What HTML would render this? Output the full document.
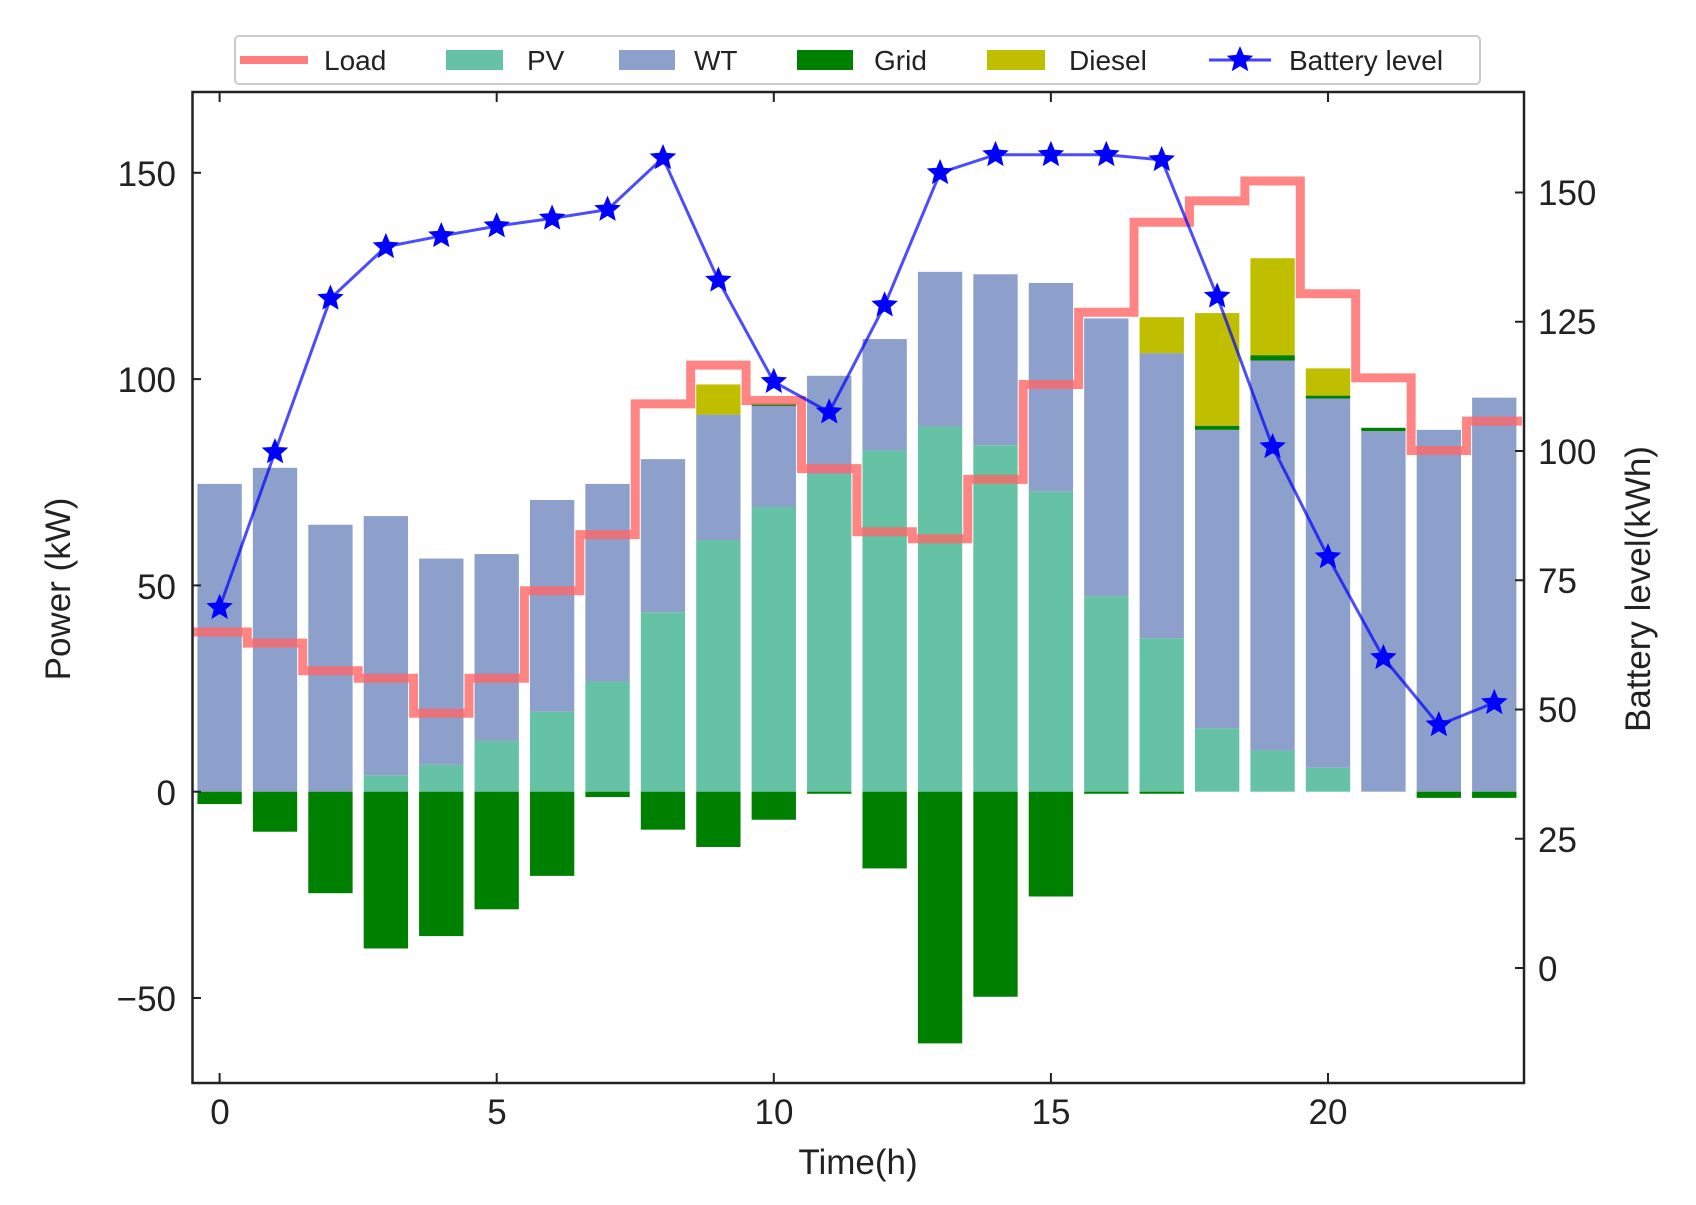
<!DOCTYPE html>
<html><head><meta charset="utf-8"><style>
html,body{margin:0;padding:0;background:#fff;}
svg text{font-family:"Liberation Sans","DejaVu Sans",sans-serif;fill:#222;}
</style></head><body>
<svg id="s" width="1696" height="1200" viewBox="0 0 1696 1200" xmlns="http://www.w3.org/2000/svg">
<rect width="1696" height="1200" fill="#fff"/>
<g id="plot"></g>
<rect x="192.5" y="92" width="1331.5" height="991" fill="none" stroke="#222" stroke-width="2.5"/>
<g id="ticks" stroke="#222" stroke-width="2"></g>
<g font-size="35">
<text x="176" y="186" text-anchor="end">150</text>
<text x="176" y="392" text-anchor="end">100</text>
<text x="176" y="599" text-anchor="end">50</text>
<text x="176" y="805" text-anchor="end">0</text>
<text x="176" y="1011" text-anchor="end">−50</text>
<text x="1538" y="205">150</text>
<text x="1538" y="334">125</text>
<text x="1538" y="464">100</text>
<text x="1538" y="593">75</text>
<text x="1538" y="722">50</text>
<text x="1538" y="852">25</text>
<text x="1538" y="981">0</text>
<text x="220" y="1124" text-anchor="middle">0</text>
<text x="497" y="1124" text-anchor="middle">5</text>
<text x="774" y="1124" text-anchor="middle">10</text>
<text x="1051" y="1124" text-anchor="middle">15</text>
<text x="1328" y="1124" text-anchor="middle">20</text>
<text x="858" y="1174" text-anchor="middle" font-size="35">Time(h)</text>
<text transform="translate(70,589) rotate(-90)" text-anchor="middle" font-size="35">Power (kW)</text>
<text transform="translate(1650,589) rotate(-90)" text-anchor="middle" font-size="35">Battery level(kWh)</text>
</g>
<g>
<rect x="235" y="36" width="1245" height="48" rx="4" fill="#fff" stroke="#ccc" stroke-width="2"/>
<line x1="240" y1="60" x2="308" y2="60" stroke="#ff6666" stroke-opacity="0.85" stroke-width="8"/>
<rect x="446" y="50" width="57" height="20" fill="#66c2a5"/>
<rect x="619" y="50" width="56" height="20" fill="#8da0cb"/>
<rect x="797" y="50" width="56" height="20" fill="#008000"/>
<rect x="987" y="50" width="58" height="20" fill="#bfbf00"/>
<line x1="1209" y1="60" x2="1271" y2="60" stroke="#0000ff" stroke-opacity="0.75" stroke-width="3"/>
<g font-size="28">
<text x="324" y="70">Load</text>
<text x="527" y="70">PV</text>
<text x="694" y="70">WT</text>
<text x="874" y="70">Grid</text>
<text x="1069" y="70">Diesel</text>
<text x="1289" y="70">Battery level</text>
</g>
<g id="legstar"></g>
</g>
</svg>
<script>
const NS="http://www.w3.org/2000/svg";
const X=h=>219.6+h*55.42, Y=v=>791.7-v*4.126, B=v=>968-v*5.17;
const plot=document.getElementById('plot');
function el(t,a,p){const e=document.createElementNS(NS,t);for(const k in a)e.setAttribute(k,a[k]);(p||plot).appendChild(e);return e;}
const pv=[0,0,0,4,6.5,12.3,19.4,26.7,43.5,61,69,77,82.7,88.5,84,72.8,47.4,37.2,15.4,10,5.8,0,0,0];
const tot=[74.6,78.5,64.7,66.8,56.5,57.6,70.7,74.6,80.6,91.4,93.5,100.8,109.7,126,125.4,123.3,114.7,106.3,87.7,104.5,95.3,87.4,87.7,95.5];
const gpos=[0,0,0,0,0,0,0,0,0,0,0.6,0,0,0,0,0,0,0,1,1.3,0.7,0.8,0,0];
const gneg=[-3,-9.7,-24.6,-38,-35,-28.5,-20.4,-1.3,-9.2,-13.4,-6.8,-0.5,-18.6,-61,-49.7,-25.4,-0.5,-0.5,0,0,0,0,-1.5,-1.5];
const dsl=[0,0,0,0,0,0,0,0,0,7.3,0,0,0,0,0,0,0,8.7,27.3,23.5,6.6,0,0,0];
const load=[38.7,36,29.3,27.5,19,27.5,48.7,62.3,94,103.4,94.8,78.3,63,61.3,75.7,98.7,116.2,138,143.2,148,120.7,100.3,82.7,89.8];
const bat=[69.7,99.8,129.5,139.5,141.6,143.5,145,146.7,156.7,133,113.4,107.5,128.2,153.8,157.3,157.3,157.3,156.3,129.9,100.8,79.5,60,47,51.3];
const w=0.8*55.42;
for(let h=0;h<24;h++){
 const x=X(h)-w/2;
 if(pv[h]>0)el('rect',{x,y:Y(pv[h]),width:w,height:Y(0)-Y(pv[h]),fill:'#66c2a5'});
 el('rect',{x,y:Y(tot[h]),width:w,height:Y(pv[h])-Y(tot[h]),fill:'#8da0cb'});
 let top=tot[h];
 if(gpos[h]>0){el('rect',{x,y:Y(top+gpos[h]),width:w,height:gpos[h]*4.126,fill:'#008000'});top+=gpos[h];}
 if(dsl[h]>0)el('rect',{x,y:Y(top+dsl[h]),width:w,height:dsl[h]*4.126,fill:'#bfbf00'});
 if(gneg[h]<0)el('rect',{x,y:Y(0),width:w,height:-gneg[h]*4.126,fill:'#008000'});
}
let d='';
for(let h=0;h<24;h++){d+=(h?'L':'M')+X(h-0.5)+' '+Y(load[h])+' L'+X(h+0.5)+' '+Y(load[h])+' ';}
el('path',{d,fill:'none',stroke:'#ff6666','stroke-opacity':0.8,'stroke-width':9,'stroke-linejoin':'miter'});
let bd='';bat.forEach((v,h)=>bd+=(h?'L':'M')+X(h)+' '+B(v)+' ');
el('path',{d:bd,fill:'none',stroke:'#0000ff','stroke-opacity':0.7,'stroke-width':3});
function star(cx,cy,r,p){let s='';for(let i=0;i<10;i++){const a=-Math.PI/2+i*Math.PI/5,rr=i%2?r*0.45:r;s+=(i?'L':'M')+(cx+rr*Math.cos(a)).toFixed(1)+' '+(cy+rr*Math.sin(a)).toFixed(1);}el('path',{d:s+'Z',fill:'#0000ff',stroke:'#0000ff','stroke-width':1.5},p);}
bat.forEach((v,h)=>star(X(h),B(v),12));
star(1240,60,12,document.getElementById('legstar'));
const tk=document.getElementById('ticks');
[0,5,10,15,20].forEach(h=>{el('line',{x1:X(h),y1:1083,x2:X(h),y2:1073},tk);el('line',{x1:X(h),y1:92,x2:X(h),y2:102},tk);});
[150,100,50,0,-50].forEach(v=>el('line',{x1:192.5,y1:Y(v),x2:201,y2:Y(v)},tk));
[150,125,100,75,50,25,0].forEach(v=>el('line',{x1:1524,y1:B(v),x2:1515,y2:B(v)},tk));
</script>
</body></html>
